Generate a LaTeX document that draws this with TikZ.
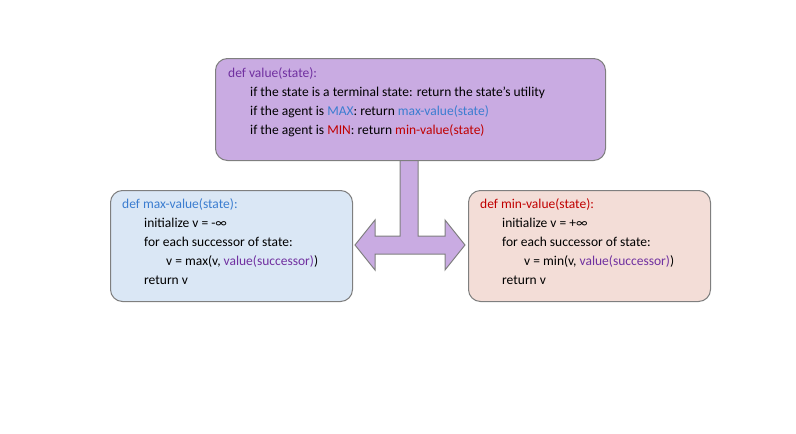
\documentclass[tikz,border=0pt]{standalone}
\usepackage{fontspec}
\setmainfont{Carlito}
\definecolor{lav}{HTML}{C9ABE2}
\definecolor{lblue}{HTML}{DAE7F5}
\definecolor{lpink}{HTML}{F3DDD7}
\definecolor{pur}{HTML}{7030A0}
\definecolor{blu}{HTML}{3B7DD0}
\definecolor{rd}{HTML}{C00000}
\definecolor{edge}{HTML}{7F7F7F}
\tikzset{box/.style={draw=edge,line width=1pt,rounded corners=12pt,anchor=north west,inner sep=0pt},
 code/.style={anchor=north west,align=left,font=\fontsize{13.5pt}{19pt}\selectfont,inner sep=0pt}}
\newcommand{\ind}{\hspace*{22pt}}
\begin{document}
\begin{tikzpicture}[x=1pt,y=-1pt]
\useasboundingbox (0,0) rectangle (796,434);
\draw[fill=lav,draw=edge,line width=1pt] (400,150)--(418,150)--(418,236)--(445,236)--(445,220)--(465,245)--(445,270)--(445,254)--(375,254)--(375,270)--(355,245)--(375,220)--(375,236)--(400,236)--cycle;
\node[box,fill=lav,minimum width=390pt,minimum height=102pt] (top) at (215,58) {};
\node[box,fill=lblue,minimum width=242pt,minimum height=111pt] (left) at (110,190) {};
\node[box,fill=lpink,minimum width=242pt,minimum height=111pt] (right) at (468,190) {};
\node[code] (tt) at (228,67) {\textcolor{pur}{def value(state):}\\
\ind if the state is a terminal state: return the state’s utility\\
\ind if the agent is \textcolor{blu}{MAX}: return \textcolor{blu}{max-value(state)}\\
\ind if the agent is \textcolor{rd}{MIN}: return \textcolor{rd}{min-value(state)}};
\node[code] (lt) at (122,198) {\textcolor{blu}{def max-value(state):}\\
\ind initialize v = -∞\\
\ind for each successor of state:\\
\ind\ind v = max(v, \textcolor{pur}{value(successor)})\\
\ind return v};
\node[code] (rt) at (480,198) {\textcolor{rd}{def min-value(state):}\\
\ind initialize v = +∞\\
\ind for each successor of state:\\
\ind\ind v = min(v, \textcolor{pur}{value(successor)})\\
\ind return v};
\end{tikzpicture}
\end{document}
